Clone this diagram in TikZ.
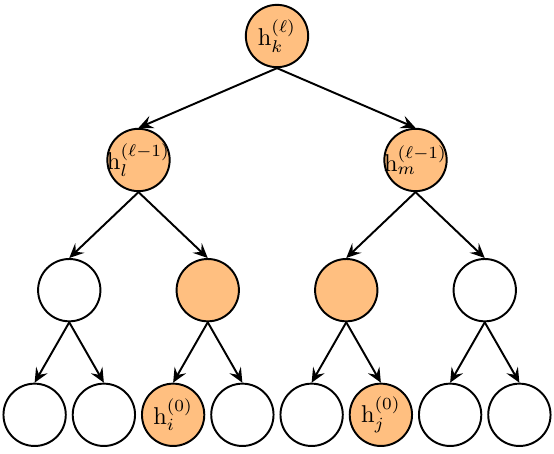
\documentclass[tikz,border=0pt]{standalone}
\usetikzlibrary{arrows.meta}
\begin{document}
\begin{tikzpicture}[vertex/.style={circle, draw, thick, minimum size=0.9cm, inner sep=0pt},
    active/.style={vertex, fill=orange!50},
    link/.style={-{Stealth[length=2.1mm, width=1.9mm, inset=0.8mm]}, thick}]
    \useasboundingbox (0,0.52) rectangle (8,-6.03);

    % Root and first level
    \node[active, label=center:{$\mathrm{h}_k^{(\ell)}$}] (r) at (4,0) {};
    \node[active, label=center:{$\mathrm{h}_l^{(\ell-1)}$}] (a1) at (2,-1.79) {};
    \node[active, label=center:{$\mathrm{h}_m^{(\ell-1)}$}] (a2) at (6,-1.79) {};
    \draw[link] (r.south) -- (a1.north);
    \draw[link] (r.south) -- (a2.north);

    % Second level
    \foreach \i/\sty in {1/vertex,2/active,3/active,4/vertex} {
        \pgfmathtruncatemacro{\up}{(\i+1)/2}
        \node[\sty] (b\i) at (2*\i-1,-3.67) {};
        \draw[link] (a\up.south) -- (b\i.north);
    }

    % Leaves
    \foreach \i/\sty/\txt in {1/vertex/{},2/vertex/{},3/active/{$\mathrm{h}_i^{(0)}$},4/vertex/{},
                              5/vertex/{},6/active/{$\mathrm{h}_j^{(0)}$},7/vertex/{},8/vertex/{}} {
        \pgfmathtruncatemacro{\up}{(\i+1)/2}
        \node[\sty] (c\i) at (\i-0.5,-5.47) {\txt};
        \draw[link] (b\up.south) -- (c\i.north);
    }
\end{tikzpicture}
\end{document}
